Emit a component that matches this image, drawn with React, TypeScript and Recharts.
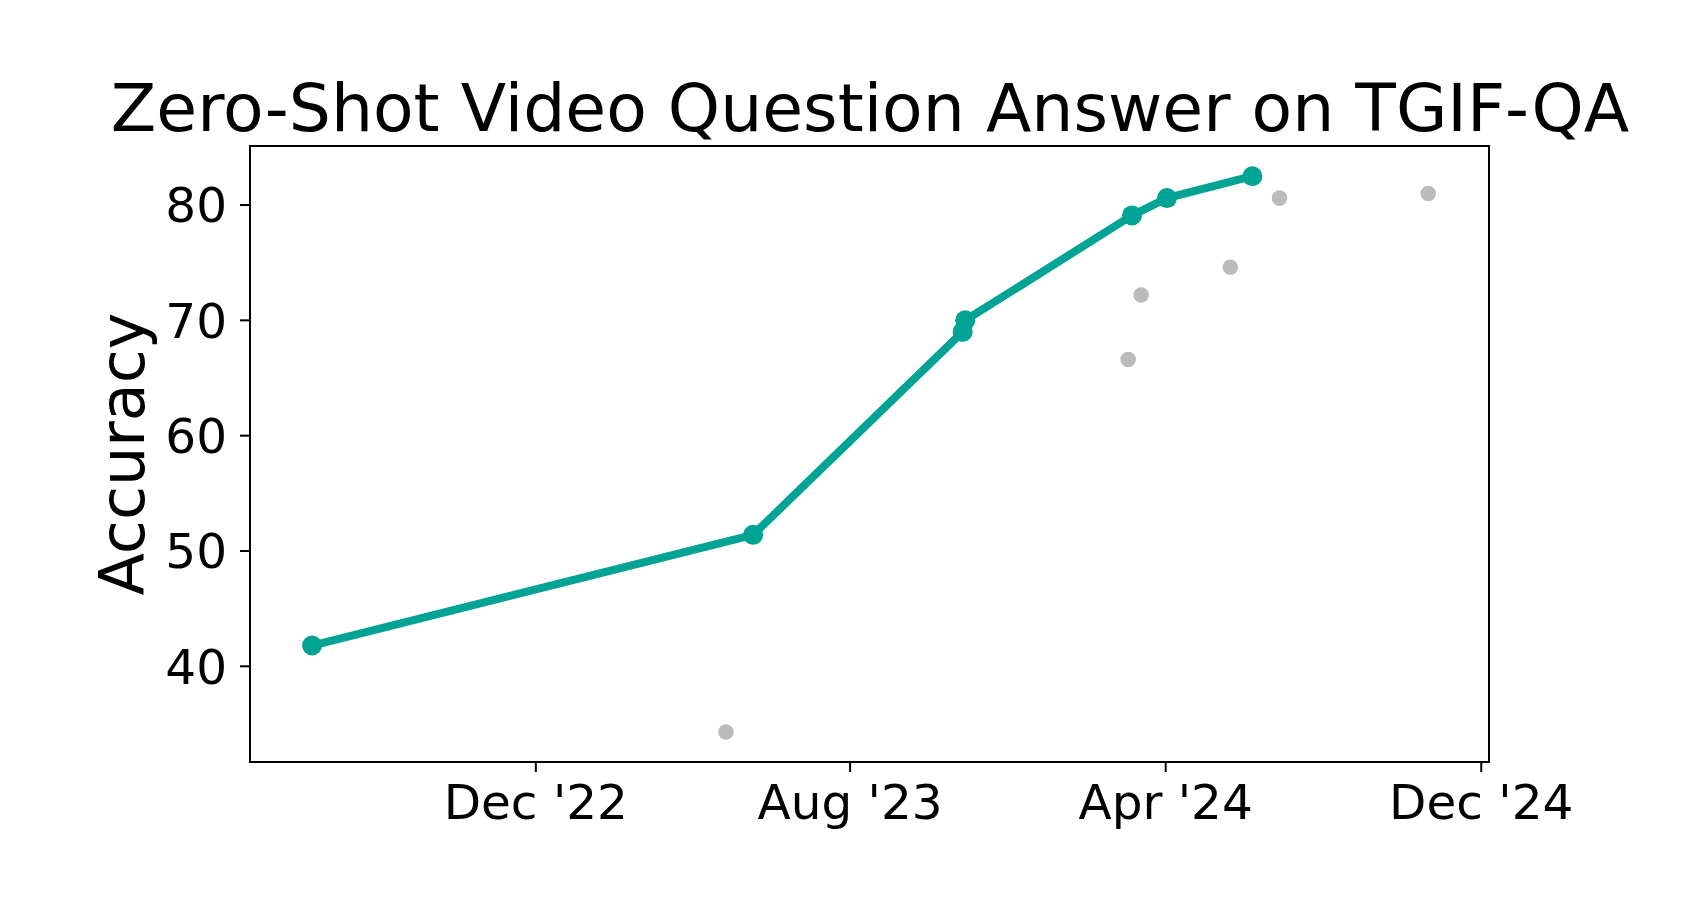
import React from 'react';
import {
  ReferenceArea,
  Scatter,
  ScatterChart,
  XAxis,
  YAxis,
} from 'recharts';

// frontier models (connected line)
const bestDates = ['2022-06-11', '2023-05-18', '2023-10-27', '2023-10-29', '2024-03-06', '2024-04-02', '2024-06-07'];
const bestAcc = [41.8, 51.4, 69.0, 70.0, 79.1, 80.6, 82.5];

// other models (grey dots)
const otherDates = ['2023-04-27', '2024-03-03', '2024-03-13', '2024-05-21', '2024-06-28', '2024-10-21'];
const otherAcc = [34.3, 66.6, 72.2, 74.6, 80.6, 81.0];

const xTickDates = ['2022-12-01', '2023-08-01', '2024-04-01', '2024-12-01'];
const yTicks = [40, 50, 60, 70, 80];
const xDomainDates = ['2022-04-24', '2024-12-07'];
const yDomain = [31.7, 85.12];

const MONTHS = ['Jan', 'Feb', 'Mar', 'Apr', 'May', 'Jun', 'Jul', 'Aug', 'Sep', 'Oct', 'Nov', 'Dec'];
const TEAL = '#00a394';
const GREY = '#bbbbbb';
const FONT = '"DejaVu Sans", Verdana, sans-serif';

const toTs = (d: string) => Date.parse(d + 'T00:00:00Z');

const bestData = bestDates.map((d, i) => ({ t: toTs(d), v: bestAcc[i] }));
const otherData = otherDates.map((d, i) => ({ t: toTs(d), v: otherAcc[i] }));
const xTicks = xTickDates.map(toTs);
const xDomain = xDomainDates.map(toTs);

const fmtDate = (ts: number) => {
  const d = new Date(ts);
  return `${MONTHS[d.getUTCMonth()]} '${String(d.getUTCFullYear()).slice(2)}`;
};

const dot = (r: number, fill: string) => (props: any) => {
  if (props.cx == null || props.cy == null) return <g />;
  return <circle cx={props.cx} cy={props.cy} r={r} fill={fill} />;
};

const tickStyle = { fontSize: 48.5, fill: '#000', fontFamily: FONT };

export default function App() {
  return (
    <div style={{ position: 'absolute', left: 0, top: 0, width: 1700, height: 900, background: '#fff' }}>
      <ScatterChart
        width={1700}
        height={900}
        margin={{ top: 146, right: 211, bottom: 58, left: 0 }}
      >
        <XAxis
          type="number"
          dataKey="t"
          domain={xDomain}
          ticks={xTicks}
          tickFormatter={fmtDate}
          allowDataOverflow
          height={80}
          tick={tickStyle}
          tickSize={10}
          tickMargin={13}
          tickLine={{ stroke: '#000', strokeWidth: 2 }}
          axisLine={{ stroke: '#000', strokeWidth: 2 }}
        />
        <YAxis
          type="number"
          dataKey="v"
          domain={yDomain}
          ticks={yTicks}
          allowDataOverflow
          width={250}
          tick={tickStyle}
          tickSize={10}
          tickMargin={13}
          tickLine={{ stroke: '#000', strokeWidth: 2 }}
          axisLine={{ stroke: '#000', strokeWidth: 2 }}
        />
        <ReferenceArea
          x1={xDomain[0]}
          x2={xDomain[1]}
          y1={yDomain[0]}
          y2={yDomain[1]}
          fill="none"
          stroke="#000"
          strokeWidth={2}
          fillOpacity={0}
        />
        <Scatter
          data={otherData}
          shape={dot(7.8, GREY)}
          isAnimationActive={false}
        />
        <Scatter
          data={bestData}
          line={{ stroke: TEAL, strokeWidth: 8 }}
          lineType="joint"
          shape={dot(10, TEAL)}
          isAnimationActive={false}
        />
      </ScatterChart>
      <svg
        width={1700}
        height={900}
        style={{ position: 'absolute', left: 0, top: 0, pointerEvents: 'none' }}
      >
        <text
          x={870}
          y={131}
          textAnchor="middle"
          fontSize={66.4}
          fontFamily={FONT}
          fill="#000"
        >
          Zero-Shot Video Question Answer on TGIF-QA
        </text>
        <text
          transform="translate(144, 454) rotate(-90)"
          textAnchor="middle"
          fontSize={62}
          fontFamily={FONT}
          fill="#000"
        >
          Accuracy
        </text>
      </svg>
    </div>
  );
}
